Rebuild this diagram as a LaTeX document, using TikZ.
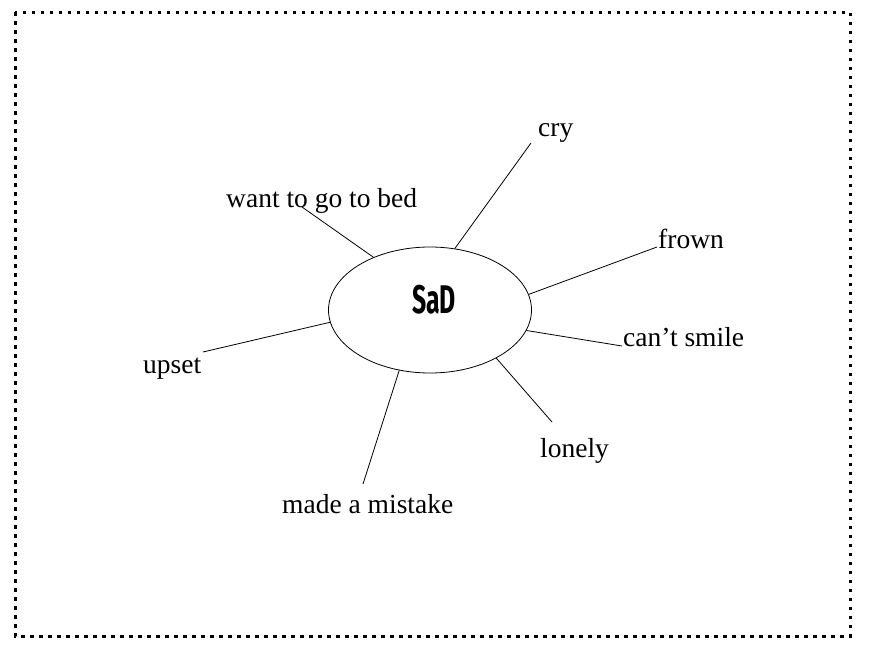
\documentclass[tikz,border=0pt]{standalone}
\usepackage{fontspec}
\setmainfont{Liberation Serif}
\newfontfamily\sadfont{Fira Sans}
\usetikzlibrary{shapes.geometric}
\begin{document}
\begin{tikzpicture}[x=1pt,y=-1pt,
  word/.style={anchor=base west,inner sep=0pt,font=\fontsize{27.5}{30}\selectfont},
  spoke/.style={line width=0.8pt}]
\useasboundingbox (0,0) rectangle (871,664);
%
\draw[line width=3pt,dash pattern=on 3.5pt off 5.5pt] (15,12) rectangle (850,636);
%
\node (sad) at (430,310) [ellipse,draw,line width=0.8pt,minimum width=203pt,minimum height=126pt,inner sep=0pt] {};
\node (sadtxt) at (434,300) [inner sep=0pt,font=\sadfont\bfseries\fontsize{40}{40}\selectfont] {\scalebox{0.62}[1]{SaD}};
%
\node (cry) at (538,136) [word] {cry};
\node (bed) at (226,207) [word] {want to go to bed};
\node (frown) at (658,248) [word] {frown};
\node (smile) at (623,346) [word] {can’t smile};
\node (upset) at (143,373) [word] {upset};
\node (lonely) at (540,457) [word] {lonely};
\node (mistake) at (282,513) [word] {made a mistake};
%
\coordinate (c1) at (531,143);
\coordinate (c2) at (302,207);
\coordinate (c3) at (657,247);
\coordinate (c4) at (622,346);
\coordinate (c5) at (203,352);
\coordinate (c6) at (552,422);
\coordinate (c7) at (363,484);
%%
\draw (sad.68.8) edge[spoke] (c1);
\draw (sad.137.5) edge[spoke] (c2);
\draw (sad.9.3) edge[spoke] (c3);
\draw (sad.-12.2) edge[spoke] (c4);
\draw (sad.187.8) edge[spoke] (c5);
\draw (sad.-36.6) edge[spoke] (c6);
\draw (sad.243) edge[spoke] (c7);
\end{tikzpicture}
\end{document}
